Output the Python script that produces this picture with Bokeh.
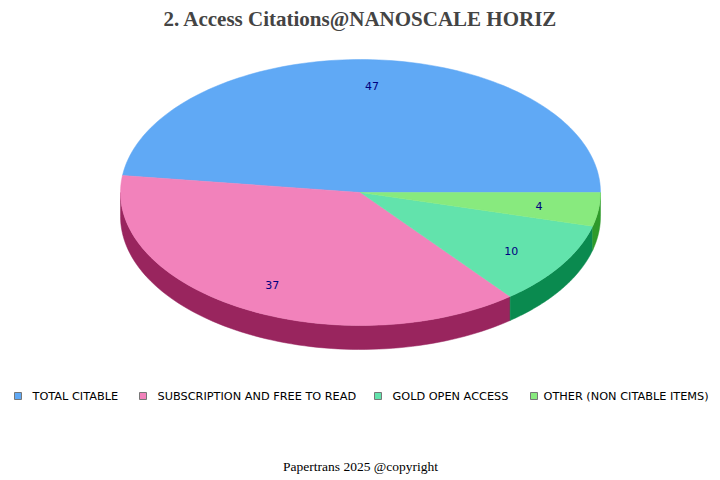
import numpy as np
from bokeh.plotting import figure
from bokeh.models import Range1d
from bokeh.core.properties import value
from bokeh.embed import file_html
from bokeh.resources import INLINE

# ---- data ----
categories = ["TOTAL CITABLE", "SUBSCRIPTION AND FREE TO READ", "GOLD OPEN ACCESS", "OTHER (NON CITABLE ITEMS)"]
values = [47, 37, 10, 4]
top_colors = ["#60a9f5", "#f282bb", "#62e3ac", "#88ea7e"]
side_colors = ["#2f6fb5", "#99255e", "#0a8a4f", "#2e9a2a"]
title_text = "2. Access Citations@NANOSCALE HORIZ"
footer_text = "Papertrans 2025 @copyright"

# ---- layout ----
W, H = 720, 480
cx, cy, rx, ry, depth = 360, 192, 240, 133, 24

p = figure(width=W, height=H, output_backend="svg", toolbar_location=None,
           x_range=Range1d(0, W), y_range=Range1d(H, 0),
           min_border=0)
p.axis.visible = False
p.grid.visible = False
p.outline_line_color = None
p.background_fill_color = "white"

vals = np.array(values, dtype=float)
fr = vals / vals.sum()
ends = np.cumsum(fr) * 2 * np.pi
starts = ends - fr * 2 * np.pi

def ex(a):
    return cx + rx * np.cos(a)

def ey(a):
    return cy - ry * np.sin(a)

# sides (front half: angles pi..2pi)
sxs, sys, scs = [], [], []
for s, e, c in zip(starts, ends, side_colors):
    a0, a1 = max(s, np.pi), min(e, 2 * np.pi)
    if a1 > a0:
        t = np.linspace(a0, a1, 80)
        xs = np.concatenate([ex(t), ex(t[::-1])])
        ys = np.concatenate([ey(t), ey(t[::-1]) + depth])
        sxs.append(list(xs)); sys.append(list(ys)); scs.append(c)
p.patches(xs=sxs, ys=sys, fill_color=scs, line_color=scs, line_width=0.5)

# tops
txs, tys = [], []
for s, e in zip(starts, ends):
    t = np.linspace(s, e, 120)
    txs.append([cx] + list(ex(t)))
    tys.append([cy] + list(ey(t)))
p.patches(xs=txs, ys=tys, fill_color=top_colors, line_color=top_colors, line_width=0.5)

# labels
mids = (starts + ends) / 2
lrx, lry = 0.75, 0.80
p.text(x=list(cx + rx * lrx * np.cos(mids)),
       y=list(cy - ry * lry * np.sin(mids)),
       text=[str(v) for v in values], text_align="center", text_baseline="middle",
       text_font=value("DejaVu Sans"), text_font_size="11px", text_color="#000080")

# title and footer
p.text(x=[360], y=[18], text=[title_text], text_align="center", text_baseline="middle",
       text_font=value("Liberation Serif"), text_font_size="21px", text_font_style="bold",
       text_color="#444444")
p.text(x=[360], y=[466], text=[footer_text], text_align="center", text_baseline="middle",
       text_font=value("Liberation Serif"), text_font_size="13.5px", text_color="#000000")

# legend
sq_x = [17.5, 142.5, 377.5, 533.5]
txt_x = [32, 157, 392, 543]
ly = 395.5
p.rect(x=sq_x, y=[ly] * 4, width=7, height=7, fill_color=top_colors, line_color="#777777", line_width=1)
p.text(x=txt_x, y=[ly] * 4, text=categories, text_align="left", text_baseline="middle",
       text_font=value("DejaVu Sans"), text_font_size="11.3px", text_color="#000000")

open("out.html", "w").write(file_html(p, INLINE))
